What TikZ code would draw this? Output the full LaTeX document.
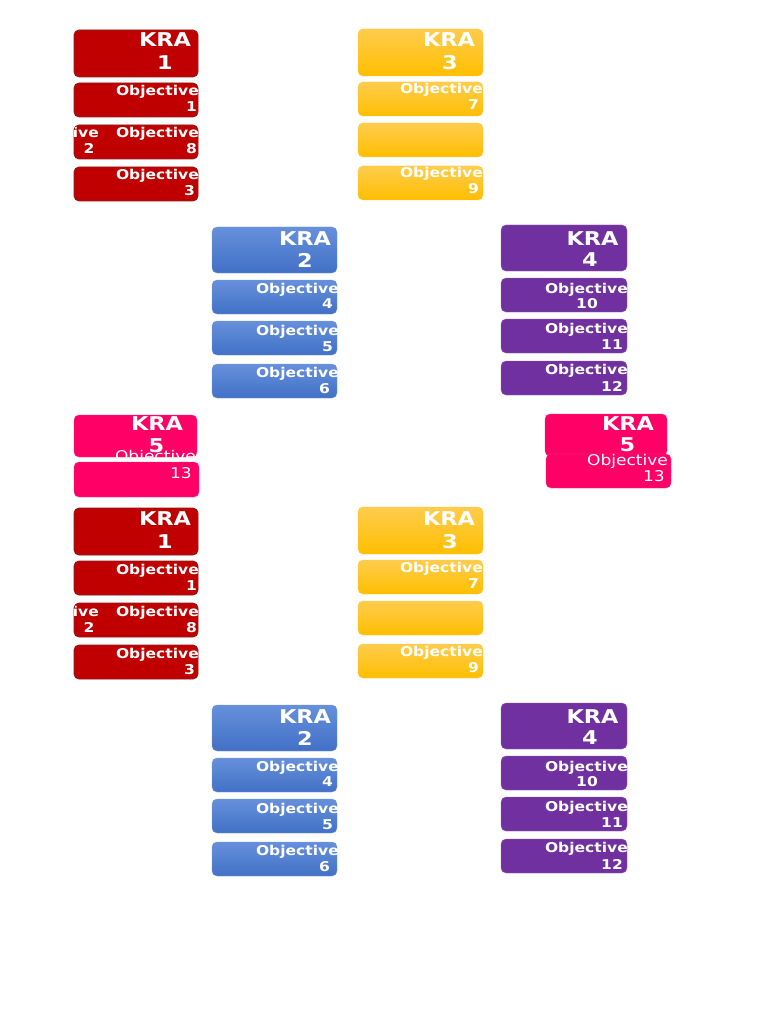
\documentclass[tikz,border=0pt]{standalone}
\usepackage{fontspec}
\newfontfamily\djv[FakeStretch=1.15]{DejaVu Sans}
\newfontfamily\djk[FakeStretch=1.18]{DejaVu Sans}
\definecolor{kred}{HTML}{C00000}
\definecolor{kredb}{HTML}{8E1A1A}
\definecolor{kyelT}{HTML}{FFCC4D}
\definecolor{kyelB}{HTML}{FFBE00}
\definecolor{kbluT}{HTML}{6690DC}
\definecolor{kbluB}{HTML}{4270C6}
\definecolor{kpur}{HTML}{7030A0}
\definecolor{kpink}{HTML}{FF0066}
\tikzset{
  kbox/.style={rounded corners=5pt, inner sep=0pt, outer sep=0pt},
  redbox/.style={kbox, fill=kred, draw=kredb, line width=0.8pt},
  yelbox/.style={kbox, top color=kyelT, bottom color=kyelB, draw=kyelB!80!white, line width=0.4pt},
  blubox/.style={kbox, top color=kbluT, bottom color=kbluB, draw=kbluB!70!white, line width=0.4pt},
  purbox/.style={kbox, fill=kpur, draw=kpur!75!white, line width=0.4pt},
  pinkbox/.style={kbox, fill=kpink, draw=kpink!80!white, line width=0.4pt},
  kratxt/.style={text=white, inner sep=0pt, font=\djk\bfseries\fontsize{19}{22}\selectfont},
  objtxt/.style={text=white, inner sep=0pt, font=\djv\bfseries\fontsize{13.5}{16}\selectfont},
  objtxtr/.style={text=white, inner sep=0pt, font=\djv\fontsize{14.8}{17}\selectfont}
}
% box: name, style, x1, y1, x2, y2
\newcommand\kbx[6]{\node[#2, minimum width={(#5-#3)*1pt}, minimum height={(#6-#4)*1pt}] (#1) at ({(#3+#5)/2},{(#4+#6)/2}) {};}
% right aligned text: name, style, x, baseline, text
\newcommand\rt[5]{\node[#2, anchor=base east] (#1) at (#3,#4) {#5};}
\newcommand\ct[5]{\node[#2, anchor=base] (#1) at (#3,#4) {#5};}
\newcommand\halfset[2]{%
\begin{scope}[yshift={-#2pt}]
% KRA 1
\kbx{#1k1}{redbox}{74}{30}{198}{77}
\ct{#1k1a}{kratxt}{165}{47}{KRA}
\ct{#1k1b}{kratxt}{165}{70}{1}
\kbx{#1o1}{redbox}{74}{83}{198}{117}
\rt{#1o1a}{objtxt}{199}{96}{Objective}
\rt{#1o1b}{objtxt}{197}{112}{1}
\kbx{#1o8}{redbox}{74}{125}{198}{159}
\begin{scope}
\clip[rounded corners=5pt] (74,125) rectangle (198,159);
\rt{#1o2a}{objtxt}{99}{138}{Objective}
\ct{#1o2b}{objtxt}{89}{154}{2}
\end{scope}
\rt{#1o8a}{objtxt}{199}{138}{Objective}
\rt{#1o8b}{objtxt}{197}{154}{8}
\kbx{#1o3}{redbox}{74}{167}{198}{201}
\rt{#1o3a}{objtxt}{199}{180}{Objective}
\rt{#1o3b}{objtxt}{195}{196}{3}
% KRA 3
\kbx{#1k3}{yelbox}{358}{29}{483}{76}
\ct{#1k3a}{kratxt}{449}{47}{KRA}
\ct{#1k3b}{kratxt}{450}{70}{3}
\kbx{#1o7}{yelbox}{358}{82}{483}{116}
\rt{#1o7a}{objtxt}{483}{94}{Objective}
\rt{#1o7b}{objtxt}{479}{110}{7}
\kbx{#1ob}{yelbox}{358}{123}{483}{157}
\kbx{#1o9}{yelbox}{358}{166}{483}{200}
\rt{#1o9a}{objtxt}{483}{178}{Objective}
\rt{#1o9b}{objtxt}{479}{194}{9}
% KRA 2
\kbx{#1k2}{blubox}{212}{227}{337}{273}
\ct{#1k2a}{kratxt}{305}{245}{KRA}
\ct{#1k2b}{kratxt}{305}{267}{2}
\kbx{#1o4}{blubox}{212}{280}{337}{314}
\rt{#1o4a}{objtxt}{339}{293}{Objective}
\rt{#1o4b}{objtxt}{333}{308}{4}
\kbx{#1o5}{blubox}{212}{321}{337}{355}
\rt{#1o5a}{objtxt}{339}{335}{Objective}
\rt{#1o5b}{objtxt}{333}{351}{5}
\kbx{#1o6}{blubox}{212}{364}{337}{398}
\rt{#1o6a}{objtxt}{339}{377}{Objective}
\rt{#1o6b}{objtxt}{330}{393}{6}
% KRA 4
\kbx{#1k4}{purbox}{501}{225}{627}{271}
\ct{#1k4a}{kratxt}{592.5}{245}{KRA}
\ct{#1k4b}{kratxt}{590}{266}{4}
\kbx{#1o10}{purbox}{501}{278}{627}{312}
\rt{#1o10a}{objtxt}{628}{293}{Objective}
\ct{#1o10b}{objtxt}{587}{308}{10}
\kbx{#1o11}{purbox}{501}{319}{627}{353}
\rt{#1o11a}{objtxt}{628}{333}{Objective}
\rt{#1o11b}{objtxt}{623}{349}{11}
\kbx{#1o12}{purbox}{501}{361}{627}{395}
\rt{#1o12a}{objtxt}{628}{374}{Objective}
\rt{#1o12b}{objtxt}{623}{391}{12}
\end{scope}}
\begin{document}
\begin{tikzpicture}[x=1pt,y=-1pt]
\useasboundingbox (0,0) rectangle (768,1024);
\fill[white] (0,0) rectangle (768,1024);
\halfset{t}{0}
\halfset{b}{478}
% KRA 5 left
\kbx{k5l}{pinkbox}{74}{415}{197}{457}
\ct{k5la}{kratxt}{157}{430}{KRA}
\ct{k5lb}{kratxt}{156.5}{452}{5}
\rt{o13la}{objtxtr}{196}{461}{Objective}
\kbx{o13l}{pinkbox}{74}{462}{199}{497}
\rt{o13lb}{objtxtr}{192}{478}{13}
% KRA 5 right
\kbx{k5r}{pinkbox}{545}{414}{667}{456}
\kbx{o13r}{pinkbox}{546}{454}{671}{488}
\ct{k5ra}{kratxt}{628}{430}{KRA}
\ct{k5rb}{kratxt}{627.5}{451}{5}
\rt{o13ra}{objtxtr}{668}{465}{Objective}
\rt{o13rb}{objtxtr}{665}{481}{13}
\end{tikzpicture}
\end{document}
